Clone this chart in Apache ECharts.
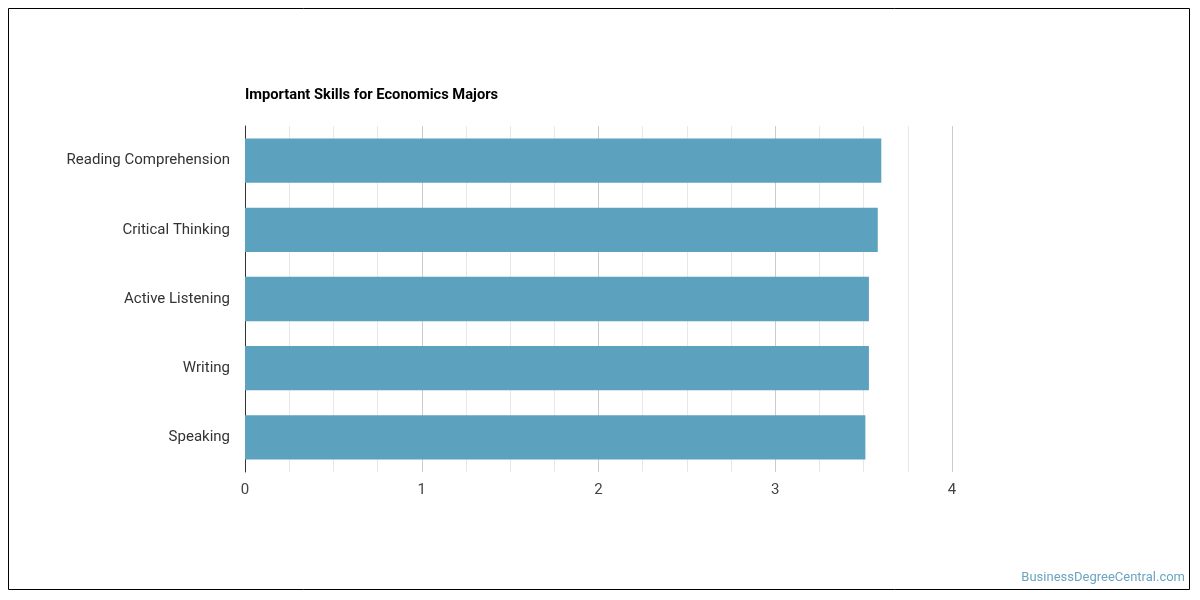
<!DOCTYPE html>
<html>
<head>
<meta charset="utf-8">
<script src="https://cdn.jsdelivr.net/npm/echarts@6/dist/echarts.min.js"></script>
<style>
html,body{margin:0;padding:0;background:#fff;}
#c{width:1200px;height:600px;}
</style>
</head>
<body>
<div id="c"></div>
<script>
const categories = ["Reading Comprehension", "Critical Thinking", "Active Listening", "Writing", "Speaking"];
const values = [3.6, 3.58, 3.53, 3.53, 3.51];
const xTicks = [0, 1, 2, 3, 4];

const chart = echarts.init(document.getElementById('c'));
chart.setOption({
  animation: false,
  backgroundColor: '#fff',
  title: {
    text: 'Important Skills for Economics Majors',
    left: 240, top: 83,
    textStyle: { fontFamily: 'Roboto', fontWeight: 'bold', fontSize: 14.7, color: '#000' }
  },
  graphic: [
    { type: 'rect', shape: { x: 8.5, y: 8.5, width: 1181, height: 581 },
      style: { fill: 'none', stroke: '#000', lineWidth: 1 }, silent: true },
    { type: 'text', right: 15, top: 571,
      style: { text: 'BusinessDegreeCentral.com', fill: '#6aa6c0', font: '13px Roboto' } }
  ],
  grid: { left: 245, right: 248, top: 126, bottom: 128, containLabel: false },
  xAxis: {
    type: 'value', min: xTicks[0], max: xTicks[xTicks.length - 1], interval: 1,
    axisLine: { show: false },
    axisTick: { show: false },
    axisLabel: { fontFamily: 'Roboto', fontSize: 15, color: '#444', margin: 11 },
    splitLine: { show: true, lineStyle: { color: '#cccccc', width: 1 } },
    minorTick: { show: false, splitNumber: 4 },
    minorSplitLine: { show: true, lineStyle: { color: '#e8e8e8', width: 1 } }
  },
  yAxis: {
    type: 'category', data: categories, inverse: true,
    axisLine: { show: true, lineStyle: { color: '#333', width: 1 } },
    axisTick: { show: false },
    axisLabel: { fontFamily: 'Roboto', fontSize: 15, color: '#333', margin: 15, padding: [6, 0, 0, 0] }
  },
  series: [{
    type: 'bar', data: values, barCategoryGap: '36%',
    itemStyle: { color: '#5ca2bf' }
  }]
});
</script>
</body>
</html>
